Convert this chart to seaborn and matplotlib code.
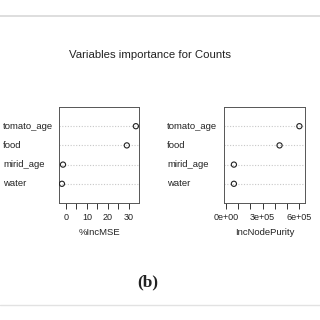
import numpy as np
import pandas as pd
import matplotlib
matplotlib.use("Agg")
import matplotlib.pyplot as plt
import seaborn as sns
from matplotlib.lines import Line2D
from matplotlib.transforms import blended_transform_factory

# data
variables = ["tomato_age", "food", "mirid_age", "water"]
inc_mse = [33.3, 29.0, -1.4, -1.9]
inc_node_purity = [6.0e5, 4.38e5, 0.65e5, 0.65e5]

mse_ticks = [0, 5, 10, 15, 20, 25, 30]
mse_labels = ["0", "", "10", "", "20", "", "30"]
inp_ticks = [0, 1e5, 2e5, 3e5, 4e5, 5e5, 6e5]
inp_labels = ["0e+00", "", "", "3e+05", "", "", "6e+05"]

pos = np.arange(len(variables), 0, -1)
df = pd.DataFrame({"variable": variables, "pos": pos,
                   "IncMSE": inc_mse, "IncNodePurity": inc_node_purity})

sns.set_theme(style="white")
plt.rcParams["font.family"] = ["Liberation Sans", "DejaVu Sans"]

fig = plt.figure(figsize=(3.2, 3.2), dpi=100)
fig.patch.set_facecolor("white")

panels = [
    dict(rect=[59 / 320, 1 - 203 / 320, 80 / 320, 96 / 320], col="IncMSE",
         xlabel="%IncMSE", xlim=(-3.3, 34.8), ticks=mse_ticks, labels=mse_labels,
         label_x=3 / 320),
    dict(rect=[224 / 320, 1 - 203 / 320, 81 / 320, 96 / 320], col="IncNodePurity",
         xlabel="IncNodePurity", xlim=(-0.16e5, 6.46e5), ticks=inp_ticks, labels=inp_labels,
         label_x=167 / 320),
]

for p in panels:
    ax = fig.add_axes(p["rect"])
    for y in df["pos"]:
        ax.axhline(y, color="#c8c8c8", linestyle=(0, (1, 1.5)), linewidth=0.8, zorder=1)
    sns.scatterplot(data=df, x=p["col"], y="pos", ax=ax, marker="o", s=14,
                    facecolor="none", edgecolor="#222222", linewidth=0.8, zorder=3)
    ax.set_xlim(*p["xlim"])
    ax.set_ylim(0, len(variables) + 1)
    ax.set_yticks([])
    ax.set_ylabel("")
    ax.set_xticks(p["ticks"])
    ax.set_xticklabels(p["labels"], fontsize=6.5, color="#222222")
    ax.tick_params(axis="x", direction="out", length=4.3, width=0.7,
                   color="#333333", pad=3, bottom=True)
    ax.set_xlabel(p["xlabel"], fontsize=6.8, color="#222222", va="center")
    ax.xaxis.set_label_coords(0.5, -0.31)
    for s in ax.spines.values():
        s.set_visible(True)
        s.set_color("#555555")
        s.set_linewidth(0.7)
    trans = blended_transform_factory(fig.transFigure, ax.transData)
    for name, y in zip(df["variable"], df["pos"]):
        fig.text(p["label_x"], y, name, transform=trans, ha="left", va="center",
                 fontsize=6.8, color="#222222")

fig.text(150 / 320, 1 - 55 / 320, "Variables importance for Counts",
         ha="center", va="center", fontsize=8.2, color="#222222")
fig.text(148 / 320, 1 - 282 / 320, "(b)", ha="center", va="center",
         fontsize=12.4, fontweight="bold", family=["Liberation Serif", "DejaVu Serif"],
         color="#222222")

fig.add_artist(Line2D([0, 1], [1 - 16 / 320] * 2, transform=fig.transFigure,
                      color="#d4d4d4", linewidth=1.1))
fig.add_artist(Line2D([0, 1], [1 - 305 / 320] * 2, transform=fig.transFigure,
                      color="#e2e2e2", linewidth=1.0))

fig.savefig("out.png", dpi=100, facecolor="white")
